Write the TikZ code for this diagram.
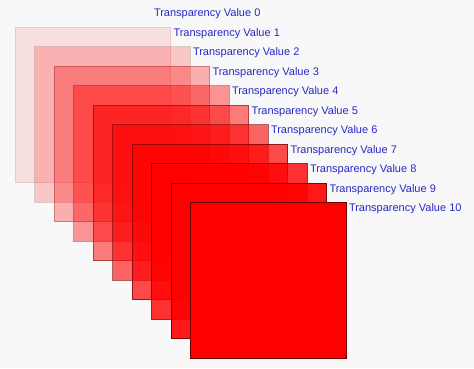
\documentclass[tikz,border=0pt]{standalone}
\usepackage{fontspec}
\setmainfont{Liberation Sans}
\usepackage{tikz}
\definecolor{bgc}{RGB}{248,248,248}
\definecolor{fillc}{RGB}{255,0,0}
\definecolor{edgec}{RGB}{110,0,0}
\definecolor{labelc}{RGB}{40,40,200}

\begin{document}
\begin{tikzpicture}[x=1pt, y=-1pt, font=\fontsize{11}{13}\selectfont]
  \def\side{155.5}
  \def\dd{19.5}
  \def\xo{-4.2}
  \def\yo{7.8}

  % background = picture frame
  \fill[bgc] (0,0) rectangle (474,368);
  \useasboundingbox (0,0) rectangle (474,368);

  % one square per transparency value, label at its top right corner
  \foreach \i in {0,...,10}{
    \pgfmathsetmacro{\op}{\i/10}
    \draw[fill=fillc, draw=edgec, line width=1pt, opacity=\op]
      (\xo+\i*\dd,\yo+\i*\dd) rectangle ++(\side,\side);
    \node[labelc, anchor=base west, inner sep=0pt] (lbl\i)
      at (\xo+\i*\dd+\side+2.5,\yo+\i*\dd+9) {Transparency Value \i};
  }
\end{tikzpicture}
\end{document}
